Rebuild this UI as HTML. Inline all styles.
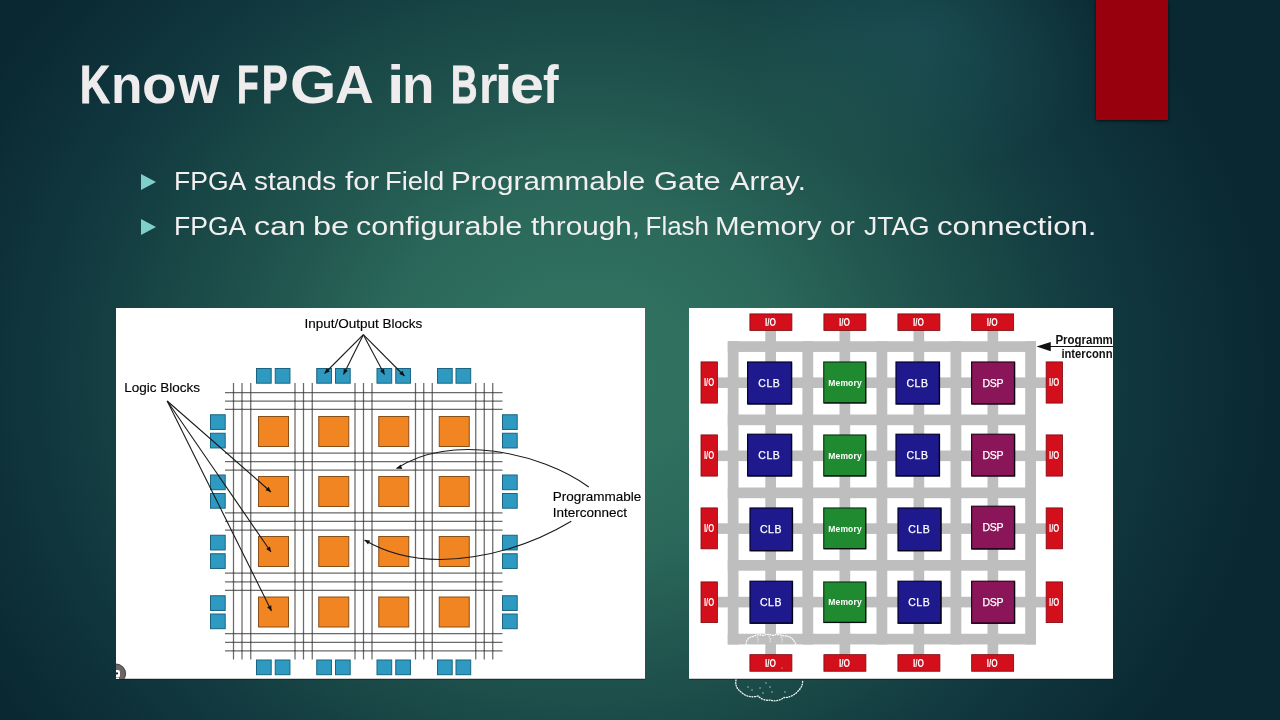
<!DOCTYPE html>
<html><head><meta charset="utf-8"><title>Know FPGA in Brief</title>
<style>
html,body{margin:0;padding:0;}
body{width:1280px;height:720px;overflow:hidden;position:relative;font-family:"Liberation Sans",sans-serif;
background:
 radial-gradient(ellipse 190px 140px at 926px 32px, rgba(55,140,135,0.21) 0%, rgba(55,140,135,0.12) 45%, rgba(55,140,135,0) 100%),
 radial-gradient(ellipse 687px 599px at 585px 377px, rgb(49,115,96) 0%, rgb(47,112,95) 15%, rgb(43,104,90) 30%, rgb(34,87,80) 45%, rgb(26,73,71) 60%, rgb(18,58,64) 75%, rgb(13,47,55) 90%, rgb(10,40,49) 100%),
 #0A2831;}
.red{position:absolute;left:1096px;top:0;width:72px;height:120px;background:#99000D;box-shadow:0 1px 3px rgba(0,0,0,0.7);}
.tw{position:absolute;font-size:53px;line-height:1;font-weight:700;color:#EEECEC;white-space:nowrap;transform-origin:0 0;}
.bw{position:absolute;font-size:26px;line-height:1;color:#F1EFEF;white-space:nowrap;transform-origin:0 0;}
.tri{position:absolute;left:141px;width:0;height:0;border-left:15px solid #7FD0CB;border-top:8.5px solid transparent;border-bottom:8.5px solid transparent;}
.panel{position:absolute;background:#fff;top:308px;height:371px;overflow:hidden;}
svg{position:absolute;left:0;top:0;}
svg text{font-family:"Liberation Sans",sans-serif;}
</style></head><body>
<div class="red"></div>
<div style="position:absolute;left:0;top:0;width:1280px;height:300px;will-change:transform;"><span class="tw" style="left:79.60px;top:58.3px;transform:scaleX(0.7771);-webkit-text-stroke:1.1px #EEECEC">K</span><span class="tw" style="left:110.98px;top:58.3px;transform:scaleX(0.9718)">n</span><span class="tw" style="left:142.36px;top:58.3px;transform:scaleX(1.0699)">o</span><span class="tw" style="left:177.67px;top:58.3px;transform:scaleX(1.0041)">w</span><span class="tw" style="left:237.07px;top:58.3px;transform:scaleX(0.6667);-webkit-text-stroke:1.1px #EEECEC">F</span><span class="tw" style="left:261.98px;top:58.3px;transform:scaleX(0.7243);-webkit-text-stroke:1.1px #EEECEC">P</span><span class="tw" style="left:290.06px;top:58.3px;transform:scaleX(1.1222)">G</span><span class="tw" style="left:335.19px;top:58.3px;transform:scaleX(1.0139)">A</span><span class="tw" style="left:386.90px;top:58.3px;transform:scaleX(1.1819)">i</span><span class="tw" style="left:401.89px;top:58.3px;transform:scaleX(1.0024)">n</span><span class="tw" style="left:451.31px;top:58.3px;transform:scaleX(0.6891);-webkit-text-stroke:1.1px #EEECEC">B</span><span class="tw" style="left:479.02px;top:58.3px;transform:scaleX(0.8941)">r</span><span class="tw" style="left:493.90px;top:58.3px;transform:scaleX(1.2906)">i</span><span class="tw" style="left:509.78px;top:58.3px;transform:scaleX(1.1577)">e</span><span class="tw" style="left:543.23px;top:58.3px;transform:scaleX(0.8870)">f</span>
<span class="bw" style="left:174.21px;top:167.5px;transform:scaleX(1.0217)">FPGA</span>
<span class="bw" style="left:253.93px;top:167.5px;transform:scaleX(1.0733)">stands</span>
<span class="bw" style="left:345.00px;top:167.5px;transform:scaleX(1.1250)">for</span>
<span class="bw" style="left:385.40px;top:167.5px;transform:scaleX(1.0519)">Field</span>
<span class="bw" style="left:451.47px;top:167.5px;transform:scaleX(1.1384)">Programmable</span>
<span class="bw" style="left:653.82px;top:167.5px;transform:scaleX(1.1818)">Gate</span>
<span class="bw" style="left:730.20px;top:167.5px;transform:scaleX(1.1262)">Array.</span>
<span class="bw" style="left:174.21px;top:213px;transform:scaleX(1.0217)">FPGA</span>
<span class="bw" style="left:253.76px;top:213px;transform:scaleX(1.2375)">can</span>
<span class="bw" style="left:312.50px;top:213px;transform:scaleX(1.2500)">be</span>
<span class="bw" style="left:355.83px;top:213px;transform:scaleX(1.1732)">configurable</span>
<span class="bw" style="left:531.25px;top:213px;transform:scaleX(1.1425)">through,</span>
<span class="bw" style="left:645.50px;top:213px;transform:scaleX(1.0000)">Flash</span>
<span class="bw" style="left:714.73px;top:213px;transform:scaleX(1.1348)">Memory</span>
<span class="bw" style="left:829.53px;top:213px;transform:scaleX(1.0727)">or</span>
<span class="bw" style="left:864.00px;top:213px;transform:scaleX(1.0159)">JTAG</span>
<span class="bw" style="left:936.70px;top:213px;transform:scaleX(1.1992)">connection.</span></div>
<div class="tri" style="top:174px"></div>
<div class="tri" style="top:219px"></div>
<div class="panel" style="left:116px;width:529px;"></div>
<div class="panel" style="left:689px;width:424px;"></div>
<svg width="1280" height="720" viewBox="0 0 1280 720">
<defs><clipPath id="cl"><rect x="116" y="308" width="529" height="371"/></clipPath>
<clipPath id="cr"><rect x="689" y="308" width="424" height="371"/></clipPath></defs>
<rect x="116" y="678.6" width="529" height="1.2" fill="#06181d" fill-opacity="0.55"/><rect x="689" y="678.6" width="424" height="1.2" fill="#06181d" fill-opacity="0.55"/>
<g clip-path="url(#cl)">
<g stroke="#6a6a6a" stroke-width="1.25" fill="none"><line x1="233.5" y1="383" x2="233.5" y2="659.5"/><line x1="242" y1="383" x2="242" y2="659.5"/><line x1="250.75" y1="383" x2="250.75" y2="659.5"/><line x1="295" y1="383" x2="295" y2="659.5"/><line x1="303.5" y1="383" x2="303.5" y2="659.5"/><line x1="312.25" y1="383" x2="312.25" y2="659.5"/><line x1="355" y1="383" x2="355" y2="659.5"/><line x1="363.5" y1="383" x2="363.5" y2="659.5"/><line x1="372" y1="383" x2="372" y2="659.5"/><line x1="415.5" y1="383" x2="415.5" y2="659.5"/><line x1="423.75" y1="383" x2="423.75" y2="659.5"/><line x1="432.25" y1="383" x2="432.25" y2="659.5"/><line x1="475.75" y1="383" x2="475.75" y2="659.5"/><line x1="484.25" y1="383" x2="484.25" y2="659.5"/><line x1="492.75" y1="383" x2="492.75" y2="659.5"/><line x1="225" y1="392.5" x2="502.5" y2="392.5"/><line x1="225" y1="401" x2="502.5" y2="401"/><line x1="225" y1="409.25" x2="502.5" y2="409.25"/><line x1="225" y1="453" x2="502.5" y2="453"/><line x1="225" y1="461.5" x2="502.5" y2="461.5"/><line x1="225" y1="470" x2="502.5" y2="470"/><line x1="225" y1="512.75" x2="502.5" y2="512.75"/><line x1="225" y1="521.25" x2="502.5" y2="521.25"/><line x1="225" y1="530" x2="502.5" y2="530"/><line x1="225" y1="573" x2="502.5" y2="573"/><line x1="225" y1="581.75" x2="502.5" y2="581.75"/><line x1="225" y1="590.25" x2="502.5" y2="590.25"/><line x1="225" y1="633.5" x2="502.5" y2="633.5"/><line x1="225" y1="642.25" x2="502.5" y2="642.25"/><line x1="225" y1="650.75" x2="502.5" y2="650.75"/></g>
<g fill="#2a2a2a" fill-opacity="0.55"><rect x="232.8" y="391.8" width="1.4" height="1.4"/><rect x="232.8" y="400.3" width="1.4" height="1.4"/><rect x="232.8" y="408.55" width="1.4" height="1.4"/><rect x="232.8" y="452.3" width="1.4" height="1.4"/><rect x="232.8" y="460.8" width="1.4" height="1.4"/><rect x="232.8" y="469.3" width="1.4" height="1.4"/><rect x="232.8" y="512.05" width="1.4" height="1.4"/><rect x="232.8" y="520.55" width="1.4" height="1.4"/><rect x="232.8" y="529.3" width="1.4" height="1.4"/><rect x="232.8" y="572.3" width="1.4" height="1.4"/><rect x="232.8" y="581.05" width="1.4" height="1.4"/><rect x="232.8" y="589.55" width="1.4" height="1.4"/><rect x="232.8" y="632.8" width="1.4" height="1.4"/><rect x="232.8" y="641.55" width="1.4" height="1.4"/><rect x="232.8" y="650.05" width="1.4" height="1.4"/><rect x="241.3" y="391.8" width="1.4" height="1.4"/><rect x="241.3" y="400.3" width="1.4" height="1.4"/><rect x="241.3" y="408.55" width="1.4" height="1.4"/><rect x="241.3" y="452.3" width="1.4" height="1.4"/><rect x="241.3" y="460.8" width="1.4" height="1.4"/><rect x="241.3" y="469.3" width="1.4" height="1.4"/><rect x="241.3" y="512.05" width="1.4" height="1.4"/><rect x="241.3" y="520.55" width="1.4" height="1.4"/><rect x="241.3" y="529.3" width="1.4" height="1.4"/><rect x="241.3" y="572.3" width="1.4" height="1.4"/><rect x="241.3" y="581.05" width="1.4" height="1.4"/><rect x="241.3" y="589.55" width="1.4" height="1.4"/><rect x="241.3" y="632.8" width="1.4" height="1.4"/><rect x="241.3" y="641.55" width="1.4" height="1.4"/><rect x="241.3" y="650.05" width="1.4" height="1.4"/><rect x="250.05" y="391.8" width="1.4" height="1.4"/><rect x="250.05" y="400.3" width="1.4" height="1.4"/><rect x="250.05" y="408.55" width="1.4" height="1.4"/><rect x="250.05" y="452.3" width="1.4" height="1.4"/><rect x="250.05" y="460.8" width="1.4" height="1.4"/><rect x="250.05" y="469.3" width="1.4" height="1.4"/><rect x="250.05" y="512.05" width="1.4" height="1.4"/><rect x="250.05" y="520.55" width="1.4" height="1.4"/><rect x="250.05" y="529.3" width="1.4" height="1.4"/><rect x="250.05" y="572.3" width="1.4" height="1.4"/><rect x="250.05" y="581.05" width="1.4" height="1.4"/><rect x="250.05" y="589.55" width="1.4" height="1.4"/><rect x="250.05" y="632.8" width="1.4" height="1.4"/><rect x="250.05" y="641.55" width="1.4" height="1.4"/><rect x="250.05" y="650.05" width="1.4" height="1.4"/><rect x="294.3" y="391.8" width="1.4" height="1.4"/><rect x="294.3" y="400.3" width="1.4" height="1.4"/><rect x="294.3" y="408.55" width="1.4" height="1.4"/><rect x="294.3" y="452.3" width="1.4" height="1.4"/><rect x="294.3" y="460.8" width="1.4" height="1.4"/><rect x="294.3" y="469.3" width="1.4" height="1.4"/><rect x="294.3" y="512.05" width="1.4" height="1.4"/><rect x="294.3" y="520.55" width="1.4" height="1.4"/><rect x="294.3" y="529.3" width="1.4" height="1.4"/><rect x="294.3" y="572.3" width="1.4" height="1.4"/><rect x="294.3" y="581.05" width="1.4" height="1.4"/><rect x="294.3" y="589.55" width="1.4" height="1.4"/><rect x="294.3" y="632.8" width="1.4" height="1.4"/><rect x="294.3" y="641.55" width="1.4" height="1.4"/><rect x="294.3" y="650.05" width="1.4" height="1.4"/><rect x="302.8" y="391.8" width="1.4" height="1.4"/><rect x="302.8" y="400.3" width="1.4" height="1.4"/><rect x="302.8" y="408.55" width="1.4" height="1.4"/><rect x="302.8" y="452.3" width="1.4" height="1.4"/><rect x="302.8" y="460.8" width="1.4" height="1.4"/><rect x="302.8" y="469.3" width="1.4" height="1.4"/><rect x="302.8" y="512.05" width="1.4" height="1.4"/><rect x="302.8" y="520.55" width="1.4" height="1.4"/><rect x="302.8" y="529.3" width="1.4" height="1.4"/><rect x="302.8" y="572.3" width="1.4" height="1.4"/><rect x="302.8" y="581.05" width="1.4" height="1.4"/><rect x="302.8" y="589.55" width="1.4" height="1.4"/><rect x="302.8" y="632.8" width="1.4" height="1.4"/><rect x="302.8" y="641.55" width="1.4" height="1.4"/><rect x="302.8" y="650.05" width="1.4" height="1.4"/><rect x="311.55" y="391.8" width="1.4" height="1.4"/><rect x="311.55" y="400.3" width="1.4" height="1.4"/><rect x="311.55" y="408.55" width="1.4" height="1.4"/><rect x="311.55" y="452.3" width="1.4" height="1.4"/><rect x="311.55" y="460.8" width="1.4" height="1.4"/><rect x="311.55" y="469.3" width="1.4" height="1.4"/><rect x="311.55" y="512.05" width="1.4" height="1.4"/><rect x="311.55" y="520.55" width="1.4" height="1.4"/><rect x="311.55" y="529.3" width="1.4" height="1.4"/><rect x="311.55" y="572.3" width="1.4" height="1.4"/><rect x="311.55" y="581.05" width="1.4" height="1.4"/><rect x="311.55" y="589.55" width="1.4" height="1.4"/><rect x="311.55" y="632.8" width="1.4" height="1.4"/><rect x="311.55" y="641.55" width="1.4" height="1.4"/><rect x="311.55" y="650.05" width="1.4" height="1.4"/><rect x="354.3" y="391.8" width="1.4" height="1.4"/><rect x="354.3" y="400.3" width="1.4" height="1.4"/><rect x="354.3" y="408.55" width="1.4" height="1.4"/><rect x="354.3" y="452.3" width="1.4" height="1.4"/><rect x="354.3" y="460.8" width="1.4" height="1.4"/><rect x="354.3" y="469.3" width="1.4" height="1.4"/><rect x="354.3" y="512.05" width="1.4" height="1.4"/><rect x="354.3" y="520.55" width="1.4" height="1.4"/><rect x="354.3" y="529.3" width="1.4" height="1.4"/><rect x="354.3" y="572.3" width="1.4" height="1.4"/><rect x="354.3" y="581.05" width="1.4" height="1.4"/><rect x="354.3" y="589.55" width="1.4" height="1.4"/><rect x="354.3" y="632.8" width="1.4" height="1.4"/><rect x="354.3" y="641.55" width="1.4" height="1.4"/><rect x="354.3" y="650.05" width="1.4" height="1.4"/><rect x="362.8" y="391.8" width="1.4" height="1.4"/><rect x="362.8" y="400.3" width="1.4" height="1.4"/><rect x="362.8" y="408.55" width="1.4" height="1.4"/><rect x="362.8" y="452.3" width="1.4" height="1.4"/><rect x="362.8" y="460.8" width="1.4" height="1.4"/><rect x="362.8" y="469.3" width="1.4" height="1.4"/><rect x="362.8" y="512.05" width="1.4" height="1.4"/><rect x="362.8" y="520.55" width="1.4" height="1.4"/><rect x="362.8" y="529.3" width="1.4" height="1.4"/><rect x="362.8" y="572.3" width="1.4" height="1.4"/><rect x="362.8" y="581.05" width="1.4" height="1.4"/><rect x="362.8" y="589.55" width="1.4" height="1.4"/><rect x="362.8" y="632.8" width="1.4" height="1.4"/><rect x="362.8" y="641.55" width="1.4" height="1.4"/><rect x="362.8" y="650.05" width="1.4" height="1.4"/><rect x="371.3" y="391.8" width="1.4" height="1.4"/><rect x="371.3" y="400.3" width="1.4" height="1.4"/><rect x="371.3" y="408.55" width="1.4" height="1.4"/><rect x="371.3" y="452.3" width="1.4" height="1.4"/><rect x="371.3" y="460.8" width="1.4" height="1.4"/><rect x="371.3" y="469.3" width="1.4" height="1.4"/><rect x="371.3" y="512.05" width="1.4" height="1.4"/><rect x="371.3" y="520.55" width="1.4" height="1.4"/><rect x="371.3" y="529.3" width="1.4" height="1.4"/><rect x="371.3" y="572.3" width="1.4" height="1.4"/><rect x="371.3" y="581.05" width="1.4" height="1.4"/><rect x="371.3" y="589.55" width="1.4" height="1.4"/><rect x="371.3" y="632.8" width="1.4" height="1.4"/><rect x="371.3" y="641.55" width="1.4" height="1.4"/><rect x="371.3" y="650.05" width="1.4" height="1.4"/><rect x="414.8" y="391.8" width="1.4" height="1.4"/><rect x="414.8" y="400.3" width="1.4" height="1.4"/><rect x="414.8" y="408.55" width="1.4" height="1.4"/><rect x="414.8" y="452.3" width="1.4" height="1.4"/><rect x="414.8" y="460.8" width="1.4" height="1.4"/><rect x="414.8" y="469.3" width="1.4" height="1.4"/><rect x="414.8" y="512.05" width="1.4" height="1.4"/><rect x="414.8" y="520.55" width="1.4" height="1.4"/><rect x="414.8" y="529.3" width="1.4" height="1.4"/><rect x="414.8" y="572.3" width="1.4" height="1.4"/><rect x="414.8" y="581.05" width="1.4" height="1.4"/><rect x="414.8" y="589.55" width="1.4" height="1.4"/><rect x="414.8" y="632.8" width="1.4" height="1.4"/><rect x="414.8" y="641.55" width="1.4" height="1.4"/><rect x="414.8" y="650.05" width="1.4" height="1.4"/><rect x="423.05" y="391.8" width="1.4" height="1.4"/><rect x="423.05" y="400.3" width="1.4" height="1.4"/><rect x="423.05" y="408.55" width="1.4" height="1.4"/><rect x="423.05" y="452.3" width="1.4" height="1.4"/><rect x="423.05" y="460.8" width="1.4" height="1.4"/><rect x="423.05" y="469.3" width="1.4" height="1.4"/><rect x="423.05" y="512.05" width="1.4" height="1.4"/><rect x="423.05" y="520.55" width="1.4" height="1.4"/><rect x="423.05" y="529.3" width="1.4" height="1.4"/><rect x="423.05" y="572.3" width="1.4" height="1.4"/><rect x="423.05" y="581.05" width="1.4" height="1.4"/><rect x="423.05" y="589.55" width="1.4" height="1.4"/><rect x="423.05" y="632.8" width="1.4" height="1.4"/><rect x="423.05" y="641.55" width="1.4" height="1.4"/><rect x="423.05" y="650.05" width="1.4" height="1.4"/><rect x="431.55" y="391.8" width="1.4" height="1.4"/><rect x="431.55" y="400.3" width="1.4" height="1.4"/><rect x="431.55" y="408.55" width="1.4" height="1.4"/><rect x="431.55" y="452.3" width="1.4" height="1.4"/><rect x="431.55" y="460.8" width="1.4" height="1.4"/><rect x="431.55" y="469.3" width="1.4" height="1.4"/><rect x="431.55" y="512.05" width="1.4" height="1.4"/><rect x="431.55" y="520.55" width="1.4" height="1.4"/><rect x="431.55" y="529.3" width="1.4" height="1.4"/><rect x="431.55" y="572.3" width="1.4" height="1.4"/><rect x="431.55" y="581.05" width="1.4" height="1.4"/><rect x="431.55" y="589.55" width="1.4" height="1.4"/><rect x="431.55" y="632.8" width="1.4" height="1.4"/><rect x="431.55" y="641.55" width="1.4" height="1.4"/><rect x="431.55" y="650.05" width="1.4" height="1.4"/><rect x="475.05" y="391.8" width="1.4" height="1.4"/><rect x="475.05" y="400.3" width="1.4" height="1.4"/><rect x="475.05" y="408.55" width="1.4" height="1.4"/><rect x="475.05" y="452.3" width="1.4" height="1.4"/><rect x="475.05" y="460.8" width="1.4" height="1.4"/><rect x="475.05" y="469.3" width="1.4" height="1.4"/><rect x="475.05" y="512.05" width="1.4" height="1.4"/><rect x="475.05" y="520.55" width="1.4" height="1.4"/><rect x="475.05" y="529.3" width="1.4" height="1.4"/><rect x="475.05" y="572.3" width="1.4" height="1.4"/><rect x="475.05" y="581.05" width="1.4" height="1.4"/><rect x="475.05" y="589.55" width="1.4" height="1.4"/><rect x="475.05" y="632.8" width="1.4" height="1.4"/><rect x="475.05" y="641.55" width="1.4" height="1.4"/><rect x="475.05" y="650.05" width="1.4" height="1.4"/><rect x="483.55" y="391.8" width="1.4" height="1.4"/><rect x="483.55" y="400.3" width="1.4" height="1.4"/><rect x="483.55" y="408.55" width="1.4" height="1.4"/><rect x="483.55" y="452.3" width="1.4" height="1.4"/><rect x="483.55" y="460.8" width="1.4" height="1.4"/><rect x="483.55" y="469.3" width="1.4" height="1.4"/><rect x="483.55" y="512.05" width="1.4" height="1.4"/><rect x="483.55" y="520.55" width="1.4" height="1.4"/><rect x="483.55" y="529.3" width="1.4" height="1.4"/><rect x="483.55" y="572.3" width="1.4" height="1.4"/><rect x="483.55" y="581.05" width="1.4" height="1.4"/><rect x="483.55" y="589.55" width="1.4" height="1.4"/><rect x="483.55" y="632.8" width="1.4" height="1.4"/><rect x="483.55" y="641.55" width="1.4" height="1.4"/><rect x="483.55" y="650.05" width="1.4" height="1.4"/><rect x="492.05" y="391.8" width="1.4" height="1.4"/><rect x="492.05" y="400.3" width="1.4" height="1.4"/><rect x="492.05" y="408.55" width="1.4" height="1.4"/><rect x="492.05" y="452.3" width="1.4" height="1.4"/><rect x="492.05" y="460.8" width="1.4" height="1.4"/><rect x="492.05" y="469.3" width="1.4" height="1.4"/><rect x="492.05" y="512.05" width="1.4" height="1.4"/><rect x="492.05" y="520.55" width="1.4" height="1.4"/><rect x="492.05" y="529.3" width="1.4" height="1.4"/><rect x="492.05" y="572.3" width="1.4" height="1.4"/><rect x="492.05" y="581.05" width="1.4" height="1.4"/><rect x="492.05" y="589.55" width="1.4" height="1.4"/><rect x="492.05" y="632.8" width="1.4" height="1.4"/><rect x="492.05" y="641.55" width="1.4" height="1.4"/><rect x="492.05" y="650.05" width="1.4" height="1.4"/></g>
<g fill="#F08521" stroke="#8A4E18" stroke-width="1"><rect x="258.5" y="416.5" width="30" height="30"/><rect x="258.5" y="476.5" width="30" height="30"/><rect x="258.5" y="536.5" width="30" height="30"/><rect x="258.5" y="597.0" width="30" height="30"/><rect x="318.75" y="416.5" width="30" height="30"/><rect x="318.75" y="476.5" width="30" height="30"/><rect x="318.75" y="536.5" width="30" height="30"/><rect x="318.75" y="597.0" width="30" height="30"/><rect x="378.75" y="416.5" width="30" height="30"/><rect x="378.75" y="476.5" width="30" height="30"/><rect x="378.75" y="536.5" width="30" height="30"/><rect x="378.75" y="597.0" width="30" height="30"/><rect x="439.25" y="416.5" width="30" height="30"/><rect x="439.25" y="476.5" width="30" height="30"/><rect x="439.25" y="536.5" width="30" height="30"/><rect x="439.25" y="597.0" width="30" height="30"/></g>
<g fill="#2E9AC2" stroke="#1A647F" stroke-width="1"><rect x="256.5" y="368.5" width="14.7" height="14.7"/><rect x="256.5" y="660" width="14.7" height="14.7"/><rect x="275.25" y="368.5" width="14.7" height="14.7"/><rect x="275.25" y="660" width="14.7" height="14.7"/><rect x="316.75" y="368.5" width="14.7" height="14.7"/><rect x="316.75" y="660" width="14.7" height="14.7"/><rect x="335.5" y="368.5" width="14.7" height="14.7"/><rect x="335.5" y="660" width="14.7" height="14.7"/><rect x="377.0" y="368.5" width="14.7" height="14.7"/><rect x="377.0" y="660" width="14.7" height="14.7"/><rect x="395.75" y="368.5" width="14.7" height="14.7"/><rect x="395.75" y="660" width="14.7" height="14.7"/><rect x="437.5" y="368.5" width="14.7" height="14.7"/><rect x="437.5" y="660" width="14.7" height="14.7"/><rect x="456.0" y="368.5" width="14.7" height="14.7"/><rect x="456.0" y="660" width="14.7" height="14.7"/><rect x="210.5" y="414.75" width="14.7" height="14.7"/><rect x="502.5" y="414.75" width="14.7" height="14.7"/><rect x="210.5" y="433.25" width="14.7" height="14.7"/><rect x="502.5" y="433.25" width="14.7" height="14.7"/><rect x="210.5" y="475.0" width="14.7" height="14.7"/><rect x="502.5" y="475.0" width="14.7" height="14.7"/><rect x="210.5" y="493.5" width="14.7" height="14.7"/><rect x="502.5" y="493.5" width="14.7" height="14.7"/><rect x="210.5" y="535.25" width="14.7" height="14.7"/><rect x="502.5" y="535.25" width="14.7" height="14.7"/><rect x="210.5" y="553.75" width="14.7" height="14.7"/><rect x="502.5" y="553.75" width="14.7" height="14.7"/><rect x="210.5" y="595.75" width="14.7" height="14.7"/><rect x="502.5" y="595.75" width="14.7" height="14.7"/><rect x="210.5" y="614.0" width="14.7" height="14.7"/><rect x="502.5" y="614.0" width="14.7" height="14.7"/></g>
<g stroke="#1a1a1a" stroke-width="1.1" fill="none">
<line x1="167.2" y1="401" x2="271" y2="492"/>
<line x1="167.2" y1="401" x2="271" y2="552"/>
<line x1="167.2" y1="401" x2="271.5" y2="611"/>
<line x1="363.3" y1="334.7" x2="324.5" y2="373.5"/>
<line x1="363.3" y1="334.7" x2="343.5" y2="374.5"/>
<line x1="363.3" y1="334.7" x2="384.5" y2="374.5"/>
<line x1="363.3" y1="334.7" x2="404.5" y2="376"/>
<path d="M588.75 487 C 540 452, 450 433, 396.5 468.5"/>
<path d="M571.25 521.25 C 520 552, 430 579, 364.5 540"/>
</g>
<g fill="#111"><polygon points="271.00,492.00 265.57,490.31 268.60,486.85"/><polygon points="271.00,552.00 266.16,549.02 269.95,546.41"/><polygon points="271.50,611.00 267.13,607.37 271.25,605.32"/><polygon points="324.50,373.50 326.55,368.20 329.80,371.45"/><polygon points="343.50,374.50 343.76,368.82 347.88,370.87"/><polygon points="384.50,374.50 380.03,370.99 384.09,368.83"/><polygon points="404.50,376.00 399.20,373.94 402.46,370.69"/><polygon points="396.50,468.50 400.60,464.56 402.17,468.88"/><polygon points="364.50,540.00 370.17,540.41 368.01,544.47"/></g>

<g fill="#000" font-size="13.5" stroke="#000" stroke-width="0.15">
<text x="304.4" y="328.2">Input/Output Blocks</text>
<text x="124.2" y="392.1">Logic Blocks</text>
<text x="552.75" y="500.7">Programmable</text>
<text x="552.8" y="516.8">Interconnect</text>
</g>
<circle cx="116" cy="673.6" r="9.6" fill="#6a6665" stroke="#333" stroke-width="0.9"/>
<rect x="113" y="670" width="7" height="7.6" rx="2" fill="#fff"/><circle cx="117" cy="673.4" r="1.1" fill="#222"/><rect x="116" y="678" width="3" height="1" fill="#fff"/>
</g>
<g clip-path="url(#cr)">
<g fill="#BEBEBE"><rect x="727.75" y="341.25" width="10.8" height="303.25"/><rect x="802.4" y="341.25" width="10.8" height="303.25"/><rect x="876.5" y="341.25" width="10.8" height="303.25"/><rect x="950.5" y="341.25" width="10.8" height="303.25"/><rect x="1025.2" y="341.25" width="10.8" height="303.25"/><rect x="727.75" y="341.25" width="308.25" height="10.7"/><rect x="727.75" y="414.5" width="308.25" height="10.7"/><rect x="727.75" y="487.5" width="308.25" height="10.7"/><rect x="727.75" y="560" width="308.25" height="10.7"/><rect x="727.75" y="633.75" width="308.25" height="10.7"/><rect x="765.3" y="330" width="10.7" height="325"/><rect x="839.5" y="330" width="10.7" height="325"/><rect x="913.5" y="330" width="10.7" height="325"/><rect x="987.5" y="330" width="10.7" height="325"/><rect x="717" y="377.4" width="329" height="10.6"/><rect x="717" y="450.5" width="329" height="10.6"/><rect x="717" y="523.3" width="329" height="10.6"/><rect x="717" y="596.8" width="329" height="10.6"/></g>
<rect x="747.6" y="362.0" width="44" height="42" fill="#1E1A8E" stroke="#05042E" stroke-width="1.2"/><path d="M791.5 362.5 V403.9 H748.1" fill="none" stroke="#04030f" stroke-opacity="0.8" stroke-width="1.3"/><rect x="823.75" y="362.0" width="42" height="41" fill="#1F8A30" stroke="#0C3D13" stroke-width="1.2"/><path d="M865.65 362.5 V402.9 H824.25" fill="none" stroke="#04030f" stroke-opacity="0.8" stroke-width="1.3"/><rect x="896.0" y="362.0" width="43.5" height="42" fill="#1E1A8E" stroke="#05042E" stroke-width="1.2"/><path d="M939.4 362.5 V403.9 H896.5" fill="none" stroke="#04030f" stroke-opacity="0.8" stroke-width="1.3"/><rect x="971.6" y="362.0" width="43" height="42" fill="#8A1558" stroke="#2E051C" stroke-width="1.2"/><path d="M1014.5 362.5 V403.9 H972.1" fill="none" stroke="#04030f" stroke-opacity="0.8" stroke-width="1.3"/><rect x="747.6" y="434.25" width="44" height="41.75" fill="#1E1A8E" stroke="#05042E" stroke-width="1.2"/><path d="M791.5 434.75 V475.9 H748.1" fill="none" stroke="#04030f" stroke-opacity="0.8" stroke-width="1.3"/><rect x="823.75" y="435.0" width="42" height="41" fill="#1F8A30" stroke="#0C3D13" stroke-width="1.2"/><path d="M865.65 435.5 V475.9 H824.25" fill="none" stroke="#04030f" stroke-opacity="0.8" stroke-width="1.3"/><rect x="896.0" y="434.25" width="43.5" height="41.75" fill="#1E1A8E" stroke="#05042E" stroke-width="1.2"/><path d="M939.4 434.75 V475.9 H896.5" fill="none" stroke="#04030f" stroke-opacity="0.8" stroke-width="1.3"/><rect x="971.6" y="434.25" width="43" height="41.75" fill="#8A1558" stroke="#2E051C" stroke-width="1.2"/><path d="M1014.5 434.75 V475.9 H972.1" fill="none" stroke="#04030f" stroke-opacity="0.8" stroke-width="1.3"/><rect x="750.0" y="508.0" width="42.5" height="42.75" fill="#1E1A8E" stroke="#05042E" stroke-width="1.2"/><path d="M792.4 508.5 V550.65 H750.5" fill="none" stroke="#04030f" stroke-opacity="0.8" stroke-width="1.3"/><rect x="823.75" y="508.0" width="42" height="40.75" fill="#1F8A30" stroke="#0C3D13" stroke-width="1.2"/><path d="M865.65 508.5 V548.65 H824.25" fill="none" stroke="#04030f" stroke-opacity="0.8" stroke-width="1.3"/><rect x="898.0" y="508.0" width="43" height="42.75" fill="#1E1A8E" stroke="#05042E" stroke-width="1.2"/><path d="M940.9 508.5 V550.65 H898.5" fill="none" stroke="#04030f" stroke-opacity="0.8" stroke-width="1.3"/><rect x="971.6" y="506.25" width="43" height="42.75" fill="#8A1558" stroke="#2E051C" stroke-width="1.2"/><path d="M1014.5 506.75 V548.9 H972.1" fill="none" stroke="#04030f" stroke-opacity="0.8" stroke-width="1.3"/><rect x="750.0" y="581.25" width="42.5" height="42" fill="#1E1A8E" stroke="#05042E" stroke-width="1.2"/><path d="M792.4 581.75 V623.15 H750.5" fill="none" stroke="#04030f" stroke-opacity="0.8" stroke-width="1.3"/><rect x="823.75" y="582.0" width="42" height="40.5" fill="#1F8A30" stroke="#0C3D13" stroke-width="1.2"/><path d="M865.65 582.5 V622.4 H824.25" fill="none" stroke="#04030f" stroke-opacity="0.8" stroke-width="1.3"/><rect x="898.0" y="581.25" width="43" height="42" fill="#1E1A8E" stroke="#05042E" stroke-width="1.2"/><path d="M940.9 581.75 V623.15 H898.5" fill="none" stroke="#04030f" stroke-opacity="0.8" stroke-width="1.3"/><rect x="971.6" y="581.25" width="43" height="42" fill="#8A1558" stroke="#2E051C" stroke-width="1.2"/><path d="M1014.5 581.75 V623.15 H972.1" fill="none" stroke="#04030f" stroke-opacity="0.8" stroke-width="1.3"/><rect x="749.9" y="313.9" width="42" height="16.6" fill="#D20F1B" stroke="#7A0A10" stroke-width="0.8"/><rect x="749.9" y="654.65" width="42" height="16.6" fill="#D20F1B" stroke="#7A0A10" stroke-width="0.8"/><rect x="823.9" y="313.9" width="42" height="16.6" fill="#D20F1B" stroke="#7A0A10" stroke-width="0.8"/><rect x="823.9" y="654.65" width="42" height="16.6" fill="#D20F1B" stroke="#7A0A10" stroke-width="0.8"/><rect x="897.9" y="313.9" width="42" height="16.6" fill="#D20F1B" stroke="#7A0A10" stroke-width="0.8"/><rect x="897.9" y="654.65" width="42" height="16.6" fill="#D20F1B" stroke="#7A0A10" stroke-width="0.8"/><rect x="971.65" y="313.9" width="42" height="16.6" fill="#D20F1B" stroke="#7A0A10" stroke-width="0.8"/><rect x="971.65" y="654.65" width="42" height="16.6" fill="#D20F1B" stroke="#7A0A10" stroke-width="0.8"/><rect x="701.0" y="361.9" width="16.4" height="41.2" fill="#D20F1B" stroke="#7A0A10" stroke-width="0.8"/><rect x="1046.15" y="361.9" width="16.4" height="41.2" fill="#D20F1B" stroke="#7A0A10" stroke-width="0.8"/><rect x="701.0" y="434.9" width="16.4" height="41.2" fill="#D20F1B" stroke="#7A0A10" stroke-width="0.8"/><rect x="1046.15" y="434.9" width="16.4" height="41.2" fill="#D20F1B" stroke="#7A0A10" stroke-width="0.8"/><rect x="701.0" y="507.9" width="16.4" height="40.95" fill="#D20F1B" stroke="#7A0A10" stroke-width="0.8"/><rect x="1046.15" y="507.9" width="16.4" height="40.95" fill="#D20F1B" stroke="#7A0A10" stroke-width="0.8"/><rect x="701.0" y="581.9" width="16.4" height="40.7" fill="#D20F1B" stroke="#7A0A10" stroke-width="0.8"/><rect x="1046.15" y="581.9" width="16.4" height="40.7" fill="#D20F1B" stroke="#7A0A10" stroke-width="0.8"/>
<g fill="#fff" text-anchor="middle" font-family="Liberation Sans, sans-serif"><text x="769.30" y="386.60" font-size="10.5" letter-spacing="0.55" stroke="#fff" stroke-width="0.25">CLB</text><text x="845.05" y="385.70" font-size="8.5" font-weight="700" letter-spacing="0.15">Memory</text><text x="917.45" y="386.60" font-size="10.5" letter-spacing="0.55" stroke="#fff" stroke-width="0.25">CLB</text><text x="992.80" y="386.60" font-size="10.5" letter-spacing="-0.3" stroke="#fff" stroke-width="0.25">DSP</text><text x="769.30" y="458.73" font-size="10.5" letter-spacing="0.55" stroke="#fff" stroke-width="0.25">CLB</text><text x="845.05" y="458.70" font-size="8.5" font-weight="700" letter-spacing="0.15">Memory</text><text x="917.45" y="458.73" font-size="10.5" letter-spacing="0.55" stroke="#fff" stroke-width="0.25">CLB</text><text x="992.80" y="458.73" font-size="10.5" letter-spacing="-0.3" stroke="#fff" stroke-width="0.25">DSP</text><text x="770.95" y="532.98" font-size="10.5" letter-spacing="0.55" stroke="#fff" stroke-width="0.25">CLB</text><text x="845.05" y="531.58" font-size="8.5" font-weight="700" letter-spacing="0.15">Memory</text><text x="919.20" y="532.98" font-size="10.5" letter-spacing="0.55" stroke="#fff" stroke-width="0.25">CLB</text><text x="992.80" y="531.23" font-size="10.5" letter-spacing="-0.3" stroke="#fff" stroke-width="0.25">DSP</text><text x="770.95" y="605.85" font-size="10.5" letter-spacing="0.55" stroke="#fff" stroke-width="0.25">CLB</text><text x="845.05" y="605.45" font-size="8.5" font-weight="700" letter-spacing="0.15">Memory</text><text x="919.20" y="605.85" font-size="10.5" letter-spacing="0.55" stroke="#fff" stroke-width="0.25">CLB</text><text x="992.80" y="605.85" font-size="10.5" letter-spacing="-0.3" stroke="#fff" stroke-width="0.25">DSP</text><text transform="translate(770.50,325.90) scale(0.8,1)" font-size="10.4" font-weight="700">I/O</text><text transform="translate(770.50,666.65) scale(0.8,1)" font-size="10.4" font-weight="700">I/O</text><text transform="translate(844.50,325.90) scale(0.8,1)" font-size="10.4" font-weight="700">I/O</text><text transform="translate(844.50,666.65) scale(0.8,1)" font-size="10.4" font-weight="700">I/O</text><text transform="translate(918.50,325.90) scale(0.8,1)" font-size="10.4" font-weight="700">I/O</text><text transform="translate(918.50,666.65) scale(0.8,1)" font-size="10.4" font-weight="700">I/O</text><text transform="translate(992.25,325.90) scale(0.8,1)" font-size="10.4" font-weight="700">I/O</text><text transform="translate(992.25,666.65) scale(0.8,1)" font-size="10.4" font-weight="700">I/O</text><text transform="translate(709.00,386.40) scale(0.74,1)" font-size="10.4" font-weight="700">I/O</text><text transform="translate(1054.15,386.40) scale(0.74,1)" font-size="10.4" font-weight="700">I/O</text><text transform="translate(709.00,459.40) scale(0.74,1)" font-size="10.4" font-weight="700">I/O</text><text transform="translate(1054.15,459.40) scale(0.74,1)" font-size="10.4" font-weight="700">I/O</text><text transform="translate(709.00,532.27) scale(0.74,1)" font-size="10.4" font-weight="700">I/O</text><text transform="translate(1054.15,532.27) scale(0.74,1)" font-size="10.4" font-weight="700">I/O</text><text transform="translate(709.00,606.15) scale(0.74,1)" font-size="10.4" font-weight="700">I/O</text><text transform="translate(1054.15,606.15) scale(0.74,1)" font-size="10.4" font-weight="700">I/O</text></g>

<line x1="1048" y1="346.5" x2="1113" y2="346.5" stroke="#111" stroke-width="1.2"/>
<polygon points="1036.5,346.5 1050.75,342 1050.75,351.25" fill="#111"/>
<g fill="#111" font-size="13.2" font-weight="700">
<text transform="translate(1055.4,343.8) scale(0.87,1)">Programmable</text>
<text transform="translate(1061.4,358.2) scale(0.85,1)">interconnect</text>
</g>
</g>
<g fill="none" stroke="#fff" stroke-width="1.3" stroke-linecap="round" stroke-dasharray="0.9 1.7">
<path stroke-opacity="0.95" d="M746.3 644 C746 640 749 637 753 636.5 C756 634.5 760 634.5 763 635.5 C766 634 770 634 773 635.5 C776 634 781 634.5 784 636 C789 635.5 793 638 795.8 644"/>
<path stroke-opacity="0.55" d="M757 637 q2 2 1 5 M769 636 q2 3 1 6 M781 637 q2 2 1 5"/>
<path stroke-opacity="0.95" d="M736 680 C735 685 737 689 741 692 C745 696 751 698 758 696 C761 699 766 701 770 700 C775 702 781 700 784 697.5 C790 698 796 694 799 690 C802 687 803 683 802.5 680"/>
</g>
<g fill="#fff" fill-opacity="0.75"><circle cx="766" cy="683" r="0.7"/><circle cx="770" cy="687" r="0.7"/><circle cx="760" cy="688" r="0.7"/><circle cx="752" cy="690" r="0.7"/><circle cx="763" cy="693" r="0.7"/><circle cx="772" cy="692" r="0.7"/><circle cx="785" cy="692" r="0.7"/><circle cx="748" cy="687" r="0.7"/><circle cx="768" cy="666.5" r="0.6"/><circle cx="782" cy="668" r="0.6"/></g>
</svg>
</body></html>
